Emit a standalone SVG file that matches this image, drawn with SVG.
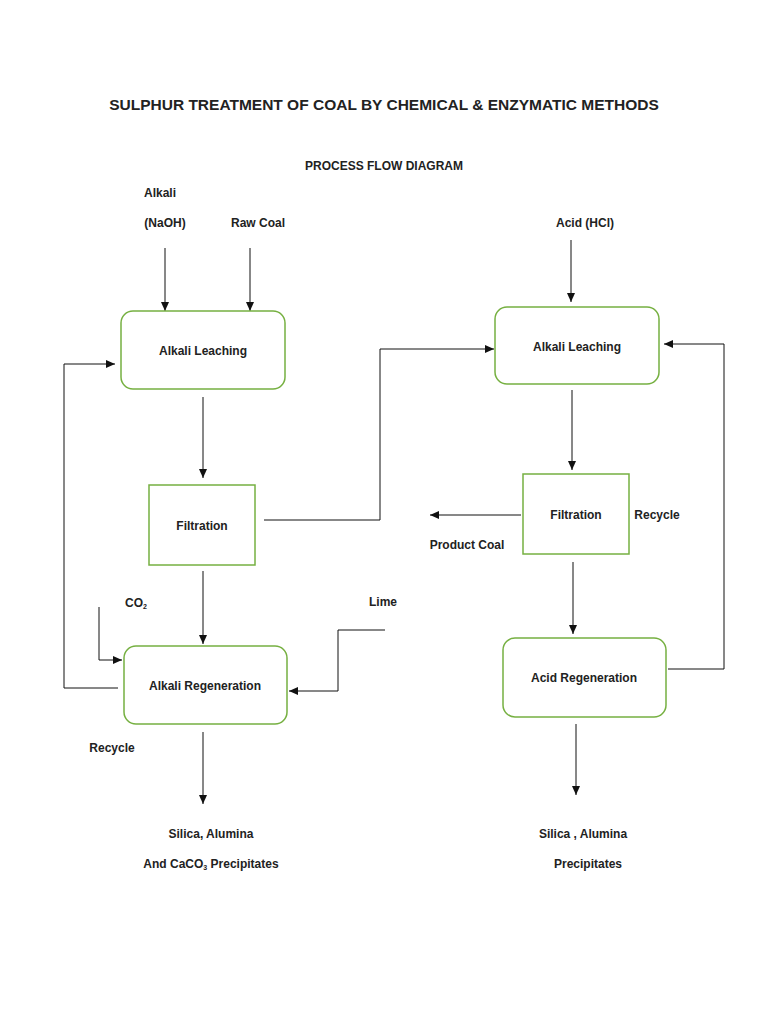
<svg xmlns="http://www.w3.org/2000/svg" width="768" height="1024" viewBox="0 0 768 1024">
<style>
text{font-family:"Liberation Sans",Arial,sans-serif;font-size:12px;font-weight:bold;fill:#222;text-anchor:middle}
.t{font-size:15.5px}
.b{fill:#fff;stroke:#76b041;stroke-width:1.5}
.c{fill:none;stroke:#111;stroke-width:1}
</style>
<defs><marker id="a" markerWidth="10" markerHeight="10" refX="9" refY="5" orient="auto" markerUnits="userSpaceOnUse"><path d="M0,1 L9,5 L0,9Z" fill="#111"/></marker></defs>
<rect width="768" height="1024" fill="#fff"/>
<text class="t" x="384" y="110">SULPHUR TREATMENT OF COAL BY CHEMICAL &amp; ENZYMATIC METHODS</text>
<text x="384" y="170">PROCESS FLOW DIAGRAM</text>
<text x="160" y="197">Alkali</text>
<text x="165" y="227">(NaOH)</text>
<text x="258" y="227">Raw Coal</text>
<text x="585" y="227">Acid (HCl)</text>
<text x="125" y="607" style="text-anchor:start">CO<tspan font-size="7" dy="2">2</tspan></text>
<text x="383" y="606">Lime</text>
<text x="112" y="752">Recycle</text>
<text x="211" y="838">Silica, Alumina</text>
<text x="211" y="868">And CaCO<tspan font-size="7" dy="2">3</tspan><tspan dy="-2"> Precipitates</tspan></text>
<text x="657" y="519">Recycle</text>
<text x="467" y="549">Product Coal</text>
<text x="583" y="838">Silica , Alumina</text>
<text x="588" y="868">Precipitates</text>
<g id="connectors" class="c">
<path class="c" d="M165,248V311" marker-end="url(#a)"/>
<path class="c" d="M250,248V311" marker-end="url(#a)"/>
<path class="c" d="M203,397V478" marker-end="url(#a)"/>
<path class="c" d="M264,520H380V349H494" marker-end="url(#a)"/>
<path class="c" d="M203,571V644" marker-end="url(#a)"/>
<path class="c" d="M99,607V660H122" marker-end="url(#a)"/>
<path class="c" d="M118,688H64V364H115" marker-end="url(#a)"/>
<path class="c" d="M385,630H338V691H289" marker-end="url(#a)"/>
<path class="c" d="M203,732V804" marker-end="url(#a)"/>
<path class="c" d="M571,240V302" marker-end="url(#a)"/>
<path class="c" d="M572,390V470" marker-end="url(#a)"/>
<path class="c" d="M521,515H430" marker-end="url(#a)"/>
<path class="c" d="M573,562V634" marker-end="url(#a)"/>
<path class="c" d="M668,669H724V344H664" marker-end="url(#a)"/>
<path class="c" d="M576,724V795" marker-end="url(#a)"/>
</g>
<g id="alkali-leaching-1"><rect class="b" x="121" y="311" width="164" height="78" rx="12"/><text x="203" y="355">Alkali Leaching</text></g>
<g id="filtration-1"><rect class="b" x="149" y="485" width="106" height="80"/><text x="202" y="530">Filtration</text></g>
<g id="alkali-regeneration"><rect class="b" x="124" y="646" width="163" height="78" rx="12"/><text x="205" y="690">Alkali Regeneration</text></g>
<g id="alkali-leaching-2"><rect class="b" x="495" y="307" width="164" height="77" rx="12"/><text x="577" y="351">Alkali Leaching</text></g>
<g id="filtration-2"><rect class="b" x="523" y="474" width="106" height="80"/><text x="576" y="519">Filtration</text></g>
<g id="acid-regeneration"><rect class="b" x="503" y="638" width="163" height="79" rx="12"/><text x="584" y="682">Acid Regeneration</text></g>
</svg>
